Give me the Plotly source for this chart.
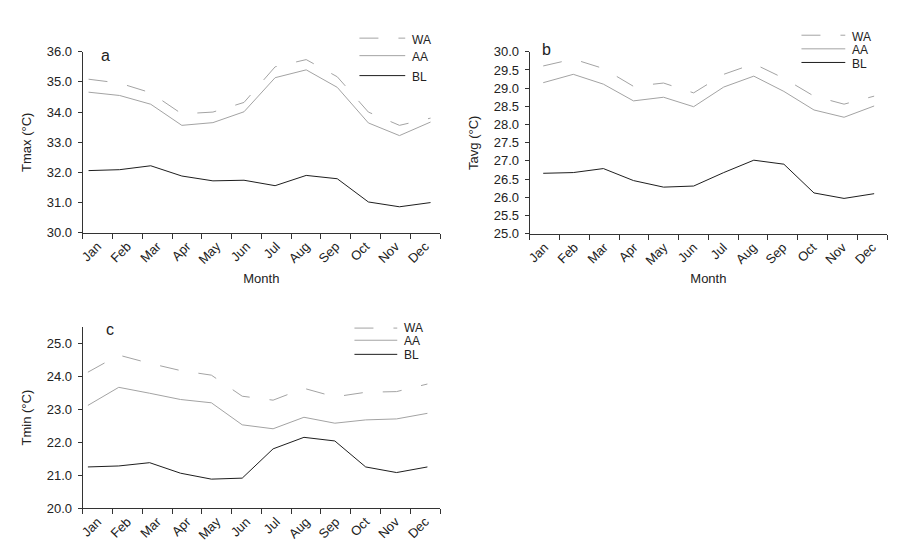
import plotly.graph_objects as go

# ---------------- data ----------------
months = ["Jan", "Feb", "Mar", "Apr", "May", "Jun", "Jul", "Aug", "Sep", "Oct", "Nov", "Dec"]
series_names = ["WA", "AA", "BL"]

tmax_wa = [35.09, 34.96, 34.64, 33.94, 34.00, 34.32, 35.50, 35.74, 35.17, 34.00, 33.56, 33.80]
tmax_aa = [34.66, 34.55, 34.26, 33.56, 33.65, 34.01, 35.14, 35.40, 34.82, 33.64, 33.22, 33.67]
tmax_bl = [32.06, 32.09, 32.22, 31.88, 31.72, 31.74, 31.56, 31.90, 31.79, 31.02, 30.86, 31.00]

tavg_wa = [29.61, 29.80, 29.54, 29.05, 29.14, 28.87, 29.38, 29.67, 29.27, 28.78, 28.56, 28.78]
tavg_aa = [29.15, 29.38, 29.11, 28.65, 28.75, 28.49, 29.03, 29.33, 28.91, 28.40, 28.20, 28.51]
tavg_bl = [26.66, 26.68, 26.79, 26.46, 26.28, 26.31, 26.68, 27.02, 26.91, 26.12, 25.97, 26.10]

tmin_wa = [24.13, 24.65, 24.40, 24.18, 24.04, 23.40, 23.28, 23.64, 23.38, 23.52, 23.54, 23.77]
tmin_aa = [23.12, 23.67, 23.49, 23.30, 23.20, 22.53, 22.41, 22.76, 22.58, 22.68, 22.71, 22.88]
tmin_bl = [21.25, 21.28, 21.38, 21.06, 20.88, 20.91, 21.80, 22.15, 22.04, 21.25, 21.08, 21.25]

# ---------------- layout constants ----------------
W, H = 906, 555
FONT = "Liberation Sans, Arial, sans-serif"
TXT = "#222222"
AXC = "#333333"
GRAY = "#a3a3a3"
BLACK = "#1e1e1e"


def px_x(x):
    return x / W


def px_y(y):
    return 1 - y / H


panels = [
    dict(key="a", data=[tmax_wa, tmax_aa, tmax_bl], ytitle="Tmax (°C)", yr=[30, 36], dy=1,
         xpx=(79, 438), ypx=(46, 232), x0=-0.19, step=0.958, month_title=True,
         letter=(102, 50), leg_line=(357, 403), leg_text=408,
         leg_y=[32, 50, 70.5], leg_ty=[34, 51.5, 71.5]),
    dict(key="b", data=[tavg_wa, tavg_aa, tavg_bl], ytitle="Tavg (°C)", yr=[25, 30], dy=0.5,
         xpx=(528, 887), ypx=(46, 233), x0=-0.45, step=0.99, month_title=True,
         letter=(545, 44), leg_line=(801, 845), leg_text=850,
         leg_y=[29, 43, 57], leg_ty=[31, 44.5, 58.5]),
    dict(key="c", data=[tmin_wa, tmin_aa, tmin_bl], ytitle="Tmin (°C)", yr=[20, 25.5], dy=1,
         xpx=(79, 438), ypx=(329, 515), x0=-0.17, step=0.965, month_title=False,
         letter=(106, 331), leg_line=(352, 395), leg_text=400,
         leg_y=[330, 342.5, 357], leg_ty=[330, 343.5, 358]),
]

styles = [
    dict(color=GRAY, width=1, dash="19px,20px"),
    dict(color=GRAY, width=1, dash="solid"),
    dict(color=BLACK, width=1, dash="solid"),
]

fig = go.Figure()
layout = dict(
    width=W, height=H,
    margin=dict(l=0, r=0, t=0, b=0),
    paper_bgcolor="white", plot_bgcolor="white",
    font=dict(family=FONT, size=13, color=TXT),
    showlegend=False,
)
shapes = []
annotations = []

xidx = list(range(len(months)))

for i, p in enumerate(panels):
    n = i + 1
    xa = "x" if n == 1 else f"x{n}"
    ya = "y" if n == 1 else f"y{n}"
    for name, vals, st in zip(series_names, p["data"], styles):
        fig.add_trace(go.Scatter(
            x=xidx, y=vals, name=name, mode="lines",
            line=st, xaxis=xa, yaxis=ya, showlegend=False,
            hoverinfo="skip",
        ))

    x0, step = p["x0"], p["step"]
    bounds = [x0 + k * step for k in range(len(months) + 1)]
    centers = [x0 + (k + 0.5) * step for k in range(len(months))]

    xaxis = dict(
        domain=[px_x(p["xpx"][0]), px_x(p["xpx"][1])],
        anchor=ya,
        range=[bounds[0] - 1e-6, bounds[-1] + 1e-6],
        showgrid=False, zeroline=False,
        showline=True, linecolor=AXC, linewidth=1,
        tickmode="array", tickvals=centers, ticktext=months,
        ticks="", tickangle=-45,
        tickfont=dict(family=FONT, size=13, color=TXT),
        minor=dict(tickmode="array", tickvals=bounds, ticks="outside",
                   ticklen=5, tickcolor=AXC, tickwidth=1, showgrid=False),
        fixedrange=True,
    )
    if p["month_title"]:
        xaxis["title"] = dict(text="Month", font=dict(family=FONT, size=13, color=TXT), standoff=7)

    yaxis = dict(
        domain=[px_y(p["ypx"][1]), px_y(p["ypx"][0])],
        anchor=xa,
        range=p["yr"],
        showgrid=False, zeroline=False,
        showline=True, linecolor=AXC, linewidth=1,
        tickmode="linear", tick0=p["yr"][0], dtick=p["dy"],
        tickformat=".1f",
        ticks="outside", ticklen=4, tickcolor=AXC, tickwidth=1,
        ticklabelstandoff=3,
        tickfont=dict(family=FONT, size=13, color=TXT),
        title=dict(text=p["ytitle"], font=dict(family=FONT, size=13, color=TXT), standoff=12),
        fixedrange=True,
    )
    layout["xaxis" if n == 1 else f"xaxis{n}"] = xaxis
    layout["yaxis" if n == 1 else f"yaxis{n}"] = yaxis

    # panel letter
    annotations.append(dict(
        text=p["key"], xref="paper", yref="paper",
        x=px_x(p["letter"][0]), y=px_y(p["letter"][1]),
        xanchor="center", yanchor="middle", showarrow=False,
        font=dict(family=FONT, size=16, color=TXT),
    ))

    # per-panel legend
    for name, st, ly, ty in zip(series_names, styles, p["leg_y"], p["leg_ty"]):
        shapes.append(dict(
            type="line", xref="paper", yref="paper",
            x0=px_x(p["leg_line"][0]), x1=px_x(p["leg_line"][1]),
            y0=px_y(ly), y1=px_y(ly),
            line=dict(color=st["color"], width=st["width"], dash=st["dash"]),
        ))
        annotations.append(dict(
            text=name, xref="paper", yref="paper",
            x=px_x(p["leg_text"]), y=px_y(ty),
            xanchor="left", yanchor="middle", showarrow=False,
            font=dict(family=FONT, size=12, color=TXT),
        ))

layout["shapes"] = shapes
layout["annotations"] = annotations
fig.update_layout(**layout)

page_js = (
    "var s='margin:0;padding:0;overflow:hidden;';"
    "document.documentElement.style.cssText=s;"
    "document.body.style.cssText=s;"
    "var gd=document.getElementById('{plot_id}');"
    "gd.style.position='fixed';gd.style.top='0px';gd.style.left='0px';"
)
fig.write_html("out.html", post_script=page_js,
               config={"displayModeBar": False, "staticPlot": True})
